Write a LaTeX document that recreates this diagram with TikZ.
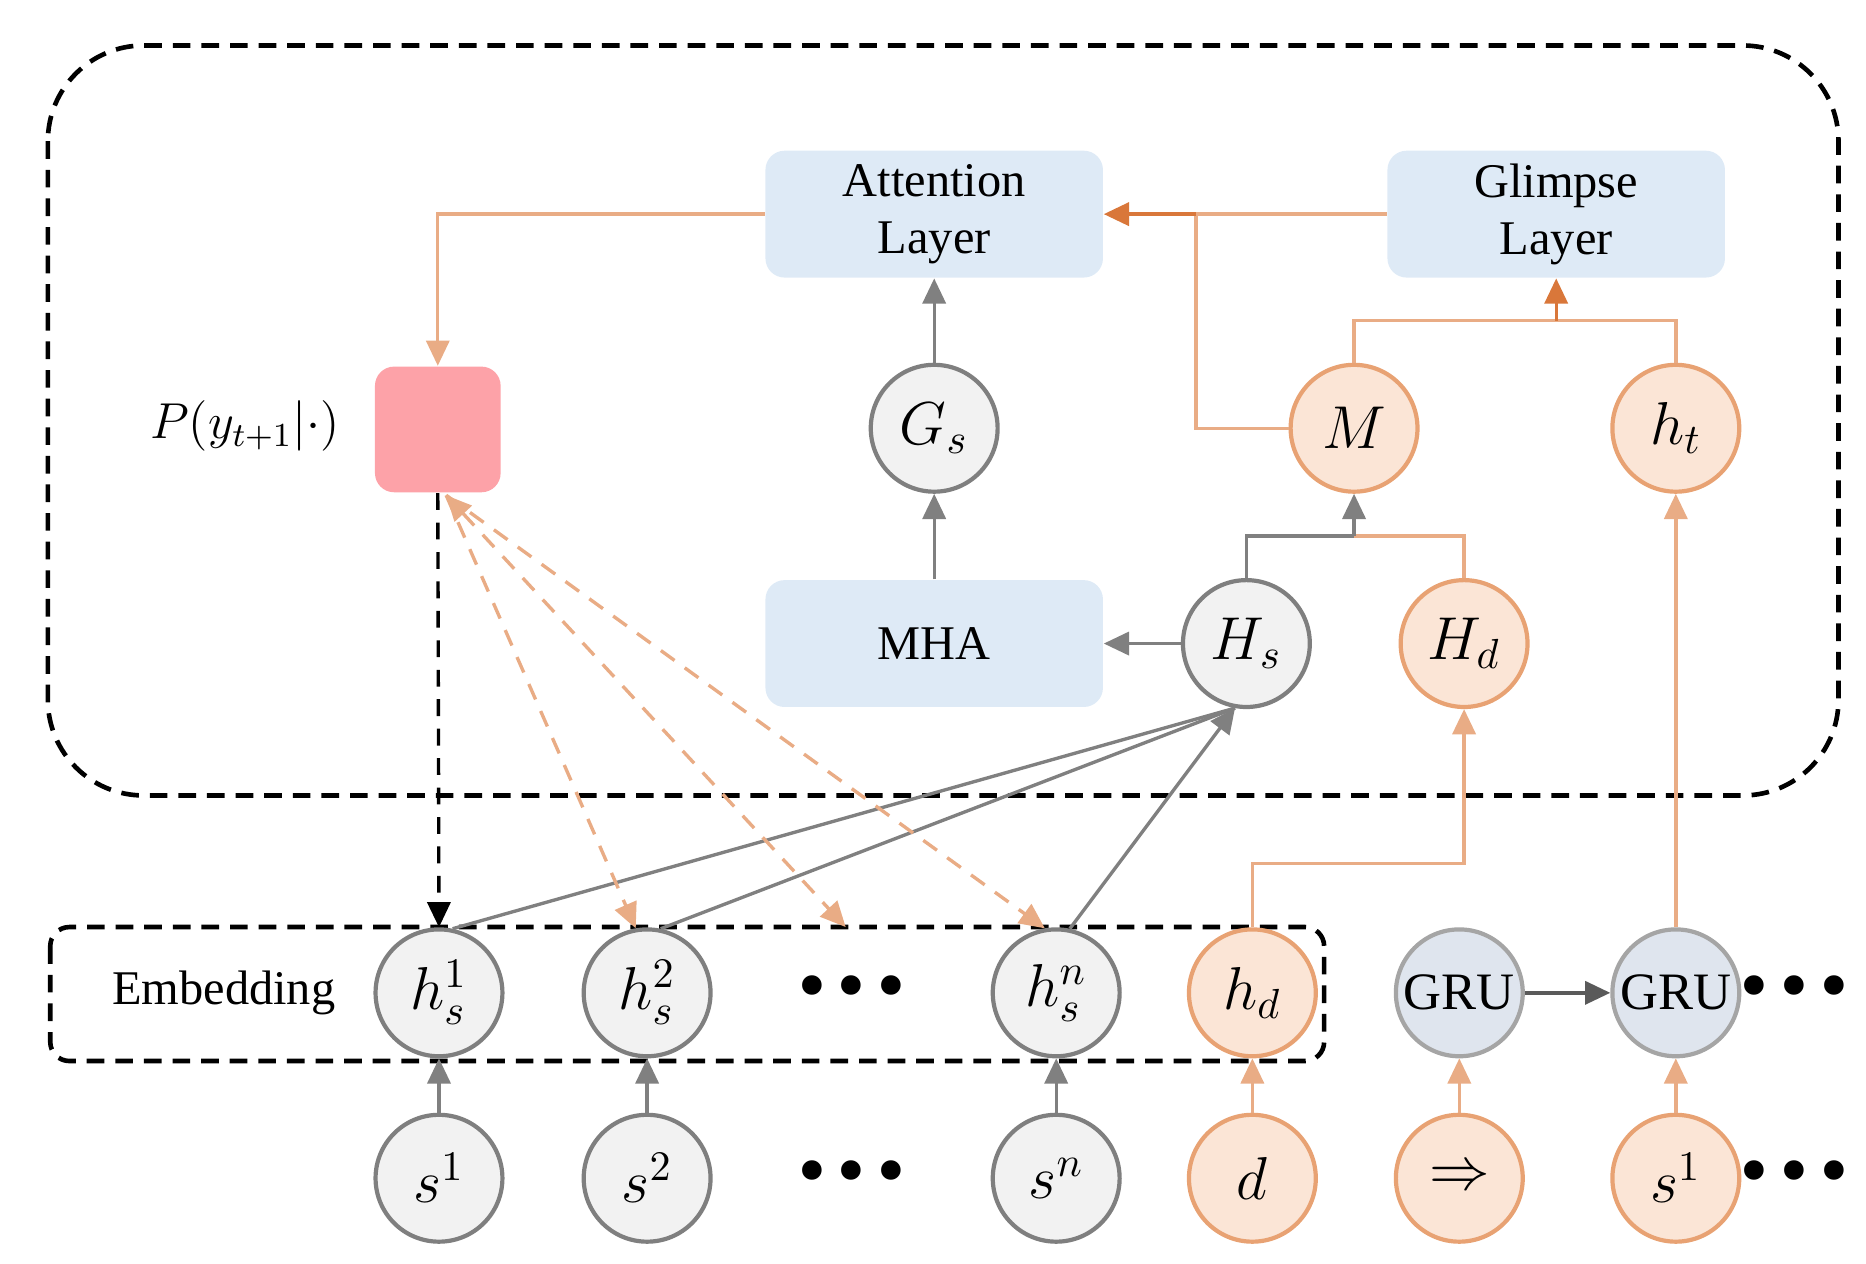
\documentclass[tikz,border=0pt]{standalone}
\usepackage{fontspec}
\setmainfont{Liberation Serif}
\newfontfamily\dotfont{DejaVu Sans}
\usetikzlibrary{arrows.meta}
\definecolor{gfill}{HTML}{F2F2F2}
\definecolor{gdraw}{HTML}{7F7F7F}
\definecolor{ofill}{HTML}{FBE5D6}
\definecolor{odraw}{HTML}{E8A273}
\definecolor{olinec}{HTML}{E9AC85}
\definecolor{darkor}{HTML}{D9773A}
\definecolor{bfill}{HTML}{DEEAF6}
\definecolor{pinkf}{HTML}{FDA2A8}
\definecolor{grufill}{HTML}{DFE5EE}
\definecolor{grudraw}{HTML}{A5A5A5}
\definecolor{glinec}{HTML}{808080}
\definecolor{dglinec}{HTML}{5A5A5A}
\tikzset{
  x=0.01cm, y=-0.01cm,
  >={Triangle[length=6pt,width=5.5pt]},
  frame/.style={draw=black, line width=1.1pt, dash pattern=on 4.2pt off 2.6pt},
  layer/.style={rectangle, rounded corners=0.16cm, fill=bfill, minimum width=2.82cm, minimum height=1.06cm, align=center, inner sep=0pt, font=\fontsize{11.5}{13.6}\selectfont},
  pinkbox/.style={rectangle, rounded corners=0.16cm, fill=pinkf, minimum size=1.05cm, inner sep=0pt},
  circ/.style={circle, line width=1pt, minimum size=1.06cm, inner sep=0pt, font=\fontsize{14}{16}\selectfont},
  gnode/.style={circ, draw=gdraw, fill=gfill},
  onode/.style={circ, draw=odraw, fill=ofill},
  grunode/.style={circ, draw=grudraw, fill=grufill, font=\fontsize{12.5}{15}\selectfont},
  dotsnode/.style={inner sep=0pt, font=\dotfont\fontsize{16}{19}\selectfont},
  txt/.style={inner sep=0pt, font=\fontsize{11.5}{14}\selectfont},
  gline/.style={draw=glinec, line width=0.8pt},
  oline/.style={draw=olinec, line width=0.8pt},
  dline/.style={draw=darkor, line width=0.8pt},
  dgline/.style={draw=dglinec, line width=0.8pt},
  odash/.style={draw=olinec, line width=0.8pt, dash pattern=on 4pt off 3pt},
  kdash/.style={draw=black, line width=0.8pt, dash pattern=on 4pt off 3pt},
}
\begin{document}
\begin{tikzpicture}
\useasboundingbox (0,0) rectangle (1560,1056);
% frames
\draw[frame, rounded corners=0.8cm] (40,38) rectangle (1537,665);
\draw[frame, rounded corners=0.16cm] (42,775) rectangle (1107,887);

% layers
\node[layer] (att) at (781,179) {Attention\\Layer};
\node[layer] (glim) at (1301,179) {Glimpse\\Layer};
\node[layer] (mha) at (781,538) {MHA};
\node[pinkbox] (pk) at (366,359) {};
\node[txt, font=\fontsize{12}{14}\selectfont] (plabel) at (205,356) {$P(y_{t+1}|\cdot)$};

% middle nodes
\node[gnode] (Gs) at (781,358) {$G_s$};
\node[onode] (M) at (1132,358) {$M$};
\node[onode] (ht) at (1401,358) {$h_t$};
\node[gnode] (Hs) at (1042,538) {$H_s$};
\node[onode] (Hd) at (1224,538) {$H_d$};

% embedding row
\node[txt] (emb) at (187,830) {Embedding};
\node[gnode] (h1) at (367,830) {$h_s^1$};
\node[gnode] (h2) at (541,830) {$h_s^2$};
\node[dotsnode] (dt1) at (712,830) {•••};
\node[gnode] (hn) at (883,830) {$h_s^n$};
\node[onode] (hd) at (1047,830) {$h_d$};
\node[grunode] (gru1) at (1220,830) {GRU};
\node[grunode] (gru2) at (1401,830) {GRU};
\node[dotsnode] (dt2) at (1500,830) {•••};

% input row
\node[gnode] (s1) at (367,985) {$s^1$};
\node[gnode] (s2) at (541,985) {$s^2$};
\node[dotsnode] (dt3) at (712,985) {•••};
\node[gnode] (sn) at (883,985) {$s^n$};
\node[onode] (d) at (1047,985) {$d$};
\node[onode] (arr) at (1220,985) {$\Rightarrow$};
\node[onode] (s1b) at (1401,985) {$s^1$};
\node[dotsnode] (dt4) at (1500,985) {•••};

% coordinates
\coordinate (j1) at (1000,179);
\coordinate (j2) at (1301,268);
\coordinate (j3) at (1132,448);
\coordinate (j4) at (1224,722);
\coordinate (pko) at (373,414);
\coordinate (dtip) at (707,775);

% connectors top
\draw[oline,->] (att.west) -| (pk.north);
\draw[oline] (glim.west) -- (j1);
\draw[oline] (M.west) -| (j1);
\draw[dline,->] (j1) -- (att.east);
\draw[oline] (M.north) |- (j2);
\draw[oline] (ht.north) |- (j2);
\draw[dline,->] (j2) -- (glim.south);
\draw[gline,->] (Gs.north) -- (att.south);
\draw[gline,->] (mha.north) -- (Gs.south);
\draw[gline,->] (Hs.west) -- (mha.east);
\draw[oline] (Hd.north) |- (j3);
\draw[gline] (Hs.north) |- (j3);
\draw[gline,->] (j3) -- (M.south);
\draw[oline,->] (hd.north) |- (j4) -- (Hd.south);
\draw[oline,->] (gru2.north) -- (ht.south);

% embeddings to Hs
\draw[gline] (h1.78) -- (Hs.-100);
\draw[gline] (h2.78) -- (Hs.-100);
\draw[gline,->] (hn.78) -- (Hs.-100);

% pointer dashed
\draw[kdash,->] (pk.south) -- (h1.north);
\draw[odash,->] (pko) -- (h2.100);
\draw[odash,<->] (pko) -- (dtip);
\draw[odash,->] (pko) -- (hn.100);

% bottom arrows
\draw[gline,->] (s1) -- (h1);
\draw[gline,->] (s2) -- (h2);
\draw[gline,->] (sn) -- (hn);
\draw[oline,->] (d) -- (hd);
\draw[oline,->] (arr) -- (gru1);
\draw[oline,->] (s1b) -- (gru2);
\draw[dgline,->] (gru1) -- (gru2);
\end{tikzpicture}
\end{document}
